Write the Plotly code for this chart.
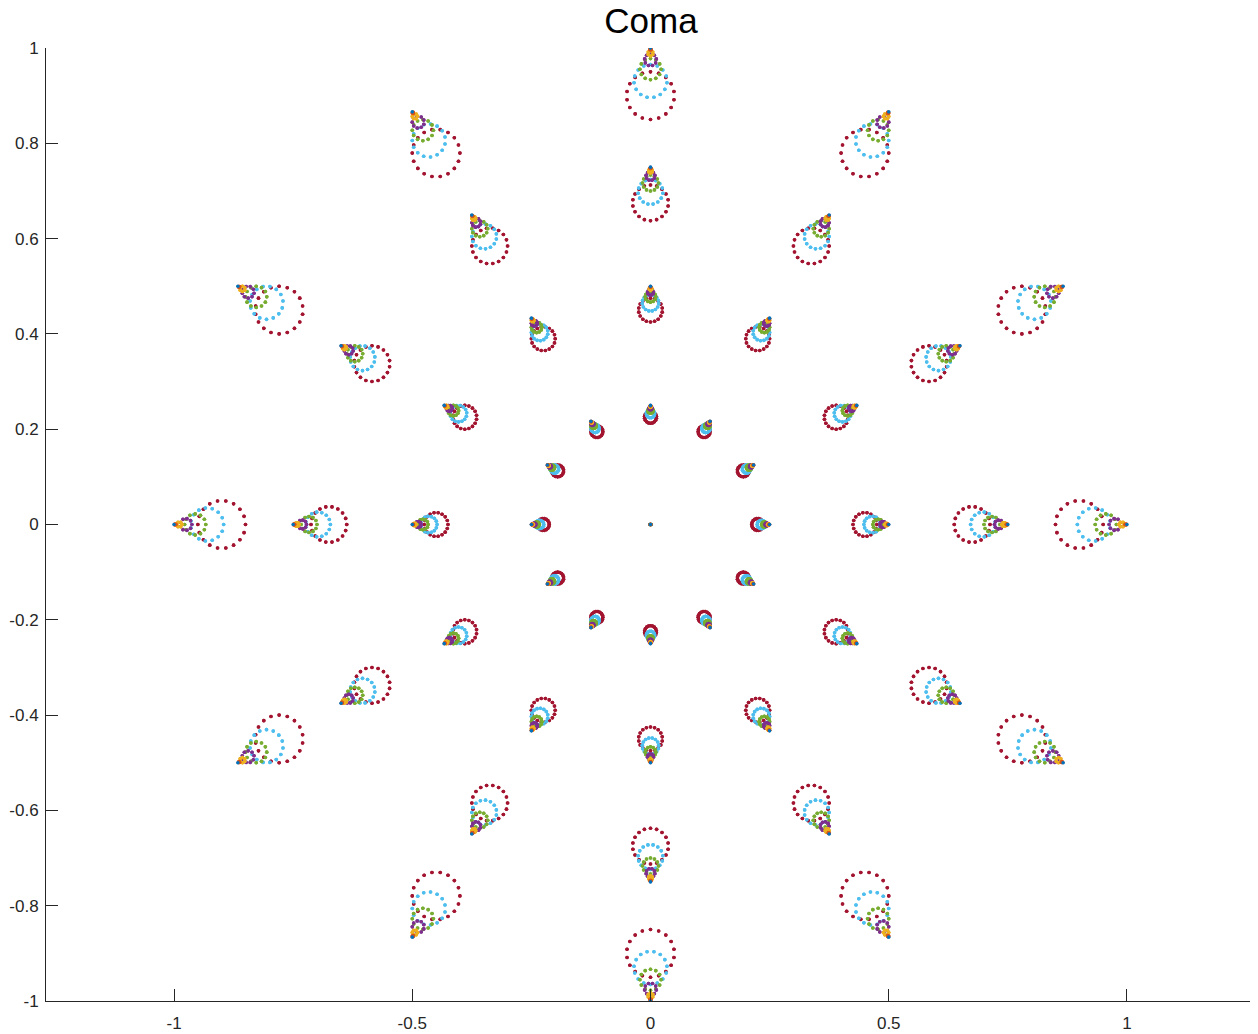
import numpy as np
import plotly.graph_objects as go

# ---- data ----
field_radii = [0.0, 0.25, 0.5, 0.75, 1.0]          # normalized field heights
field_angles_deg = [0, 30, 60, 90, 120, 150, 180, 210, 240, 270, 300, 330]
pupil_zone_radii = [0.0, 1/6, 2/6, 3/6, 4/6, 5/6, 1.0]   # pupil zones (one colour each)
pupil_zone_samples = [1, 6, 12, 18, 24, 30, 36]          # rays per zone
coma_coefficient = 0.05                                   # sagittal coma radius at h=1, rho=1
zone_colors = ["#0072BD", "#D95319", "#EDB120", "#7E2F8E", "#77AC30", "#4DBEEE", "#A2142F"]

x_ticks = [-1, -0.5, 0, 0.5, 1]
x_tick_text = ["-1", "-0.5", "0", "0.5", "1"]
y_ticks = [-1, -0.8, -0.6, -0.4, -0.2, 0, 0.2, 0.4, 0.6, 0.8, 1]
y_tick_text = ["-1", "-0.8", "-0.6", "-0.4", "-0.2", "0", "0.2", "0.4", "0.6", "0.8", "1"]


def zone_spots(rho, n):
    xs, ys = [], []
    for h in field_radii:
        angles = [0] if h == 0 else field_angles_deg
        for a in angles:
            phi = np.deg2rad(a)
            u = np.array([np.cos(phi), np.sin(phi)])
            v = np.array([-np.sin(phi), np.cos(phi)])
            theta = 2 * np.pi * np.arange(n) / n
            alpha = theta - phi
            r = coma_coefficient * h * rho ** 2
            d = r * (2 + np.cos(2 * alpha))
            p = r * np.sin(2 * alpha)
            pts = h * u[:, None] - d[None, :] * u[:, None] + p[None, :] * v[:, None]
            xs.extend(pts[0].tolist())
            ys.extend(pts[1].tolist())
    return xs, ys


fig = go.Figure()
# draw outer zones first so the chief ray (blue) ends on top
for rho, n, col in reversed(list(zip(pupil_zone_radii, pupil_zone_samples, zone_colors))):
    xs, ys = zone_spots(rho, n)
    fig.add_trace(go.Scatter(x=xs, y=ys, mode="markers",
                             marker=dict(size=3.6, color=col, line=dict(width=0)),
                             showlegend=False, hoverinfo="skip"))

axis_common = dict(showline=True, linecolor="#262626", linewidth=1,
                   ticks="inside", ticklen=12, tickwidth=1, tickcolor="#262626",
                   showgrid=False, zeroline=False, mirror=False, automargin=False,
                   tickfont=dict(family="Liberation Sans, Arial", size=17, color="#262626"))

fig.update_layout(
    width=1250, height=1026,
    margin=dict(l=38, r=3, t=40, b=33),
    paper_bgcolor="white", plot_bgcolor="white",
    title=dict(text="Coma", x=0.5144, xanchor="center", y=1.0, yanchor="top",
               font=dict(family="Liberation Sans, Arial", size=35, color="black")),
    xaxis=dict(range=[-1.2687, 1.2687], tickvals=x_ticks, ticktext=x_tick_text,
               ticklabelstandoff=7, **axis_common),
    yaxis=dict(range=[-1, 1], tickvals=y_ticks, ticktext=y_tick_text,
               ticklabelstandoff=3, **axis_common),
)

fig.write_html("out.html")
